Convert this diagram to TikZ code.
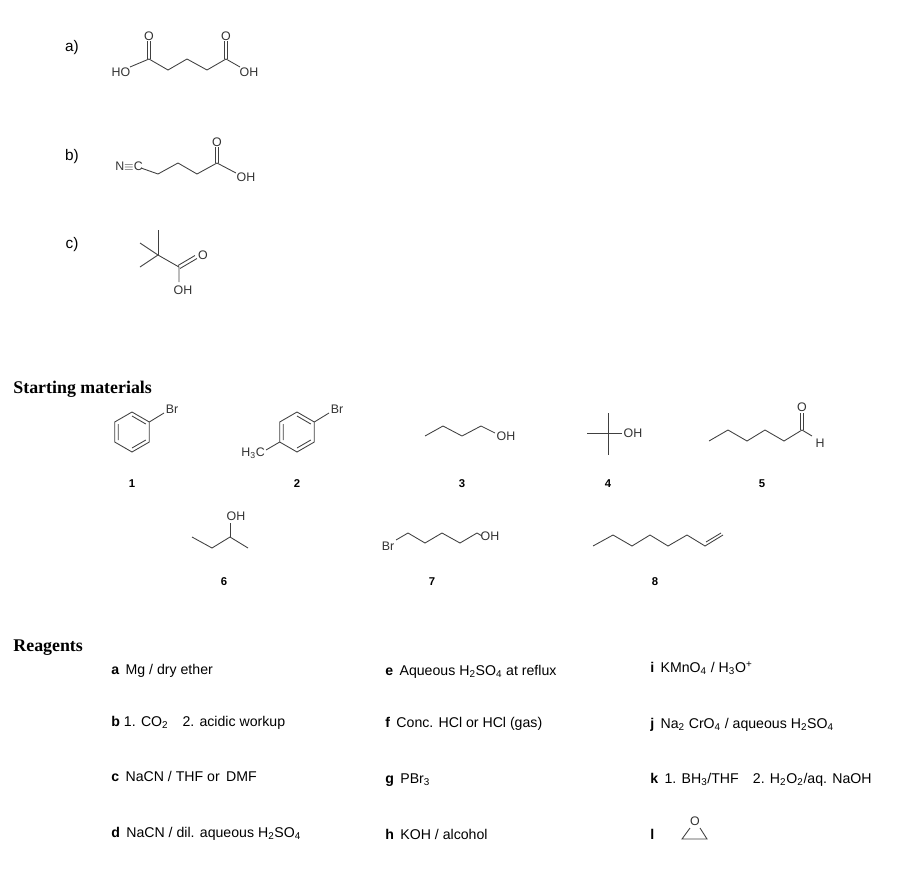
\documentclass[tikz,border=0pt]{standalone}
\usepackage{fontspec}
\setmainfont{Liberation Sans}
\newfontfamily\headfont{Liberation Serif}
\newcommand\sbx[1]{\textsubscript{#1}}
\newcommand\spx[1]{\textsuperscript{#1}}
\begin{document}
\begin{tikzpicture}[x=0.75pt,y=-0.75pt,line width=0.65pt,
  bond/.style={draw=black!75},
  atom/.style={inner sep=0pt,font=\fontsize{9.3}{10}\selectfont,text=black!80},
  lbl/.style={inner sep=0pt,font=\fontsize{11.5}{12}\selectfont},
  num/.style={inner sep=0pt,font=\bfseries\fontsize{8.5}{9}\selectfont},
  head/.style={inner sep=0pt,anchor=west,font=\headfont\bfseries\fontsize{13.4}{14}\selectfont},
  rg/.style={inner sep=0pt,anchor=west,font=\fontsize{10.6}{11}\selectfont}]
\useasboundingbox (0,0) rectangle (899,882);
% a)
\node[lbl] (la) at (72,48) {a)};
\node[atom] (ha) at (121,72) {HO};
\node[atom] (oa1) at (149,36) {O};
\node[atom] (oa2) at (249,72) {OH};
\draw[bond] (130,67) -- (149,59) -- (168,70) -- (187,59) -- (207,70) -- (226,59) -- (240,67);
\draw[bond] (147.5,59) -- (147.5,41); \draw[bond] (150.5,59) -- (150.5,41);
\draw[bond] (224.5,59) -- (224.5,41); \draw[bond] (227.5,59) -- (227.5,41);
\node[atom] (oa3) at (226,36) {O};
% b)
\node[lbl] (lb) at (72,157) {b)};
\node[atom] (nc) at (129,166) {N$\equiv$C};
\node[atom] (ob1) at (217,142) {O};
\node[atom] (ob2) at (246,177) {OH};
\draw[bond] (141,168) -- (158,174) -- (178,163) -- (197,174) -- (217,163) -- (236,173);
\draw[bond] (215.5,163) -- (215.5,147); \draw[bond] (218.5,163) -- (218.5,147);
% c)
\node[lbl] (lc) at (72,245) {c)};
\draw[bond] (158,230) -- (158,255); \draw[bond] (140,243) -- (158,255) -- (140,267);
\draw[bond] (158,255) -- (179,267) -- (179,282);
\draw[bond] (178,265.5) -- (195,255.5); \draw[bond] (180,268.5) -- (197,258.5);
\node[atom] (oc1) at (203,255) {O};
\node[atom] (oc2) at (183,290) {OH};
% Starting materials
\node[head] (hs) at (13,389) {Starting materials};
% 1
\draw[bond] (132,412) -- (149.3,422) -- (149.3,442) -- (132,452) -- (114.7,442) -- (114.7,422) -- cycle;
\draw[bond] (132,416) -- (145.8,424) (145.8,440) -- (132,448) (118.2,440) -- (118.2,424);
\draw[bond] (149.3,422) -- (164,413);
\node[atom] (br1) at (172,409) {Br};
\node[num] (n1) at (132,484) {1};
% 2
\draw[bond] (297,412) -- (314.3,422) -- (314.3,442) -- (297,452) -- (279.7,442) -- (279.7,422) -- cycle;
\draw[bond] (297,416) -- (310.8,424) (310.8,440) -- (297,448) (283.2,440) -- (283.2,424);
\draw[bond] (314.3,422) -- (329,413);
\node[atom] (br2) at (337,409) {Br};
\draw[bond] (279.7,442) -- (266,450);
\node[atom] (h3c) at (253,453) {H\sbx{3}C};
\node[num] (n2) at (297,484) {2};
% 3
\draw[bond] (425,436) -- (443,426) -- (462,436) -- (481,426) -- (495,433);
\node[atom] (oh3) at (506,436) {OH};
\node[num] (n3) at (462,484) {3};
% 4
\draw[bond] (587,433) -- (622,433); \draw[bond] (608,413) -- (608,455);
\node[atom] (oh4) at (633,433) {OH};
\node[num] (n4) at (608,484) {4};
% 5
\draw[bond] (709,441) -- (728,430) -- (747,441) -- (765,430) -- (784,441) -- (802,430) -- (812,436);
\draw[bond] (800.5,430) -- (800.5,413); \draw[bond] (803.5,430) -- (803.5,413);
\node[atom] (o5) at (802,407) {O};
\node[atom] (h5) at (820,443) {H};
\node[num] (n5) at (762,484) {5};
% 6
\draw[bond] (192,537) -- (212,548) -- (230,537) -- (248,548); \draw[bond] (230,537) -- (230,523);
\node[atom] (oh6) at (236,516) {OH};
\node[num] (n6) at (224,582) {6};
% 7
\node[atom] (br7) at (388,546) {Br};
\draw[bond] (396,540) -- (408,533) -- (425,543) -- (442,533) -- (460,543) -- (477,533) -- (482,536);
\node[atom] (oh7) at (490,536) {OH};
\node[num] (n7) at (432,582) {7};
% 8
\draw[bond] (593,546) -- (613,535) -- (632,546) -- (650,535) -- (668,546) -- (687,535) -- (705,546) -- (723,535);
\draw[bond] (706,542) -- (721,533);
\node[num] (n8) at (655,582) {8};
% Reagents
\node[head] (hr) at (13,648) {Reagents};
\node[rg] (ra) at (111,671) {\textbf{a}\, Mg / dry ether};
\node[rg] (rb) at (111,723) {\textbf{b} 1. CO\sbx{2}\quad 2. acidic workup};
\node[rg] (rc) at (111,776) {\textbf{c}\, NaCN / THF or\, DMF};
\node[rg] (rd) at (111,834) {\textbf{d}\, NaCN / dil. aqueous H\sbx{2}SO\sbx{4}};
\node[rg] (re) at (385,672) {\textbf{e}\, Aqueous H\sbx{2}SO\sbx{4} at reflux};
\node[rg] (rf) at (385,724) {\textbf{f}\, Conc. HCl or HCl (gas)};
\node[rg] (rgg) at (385,780) {\textbf{g}\, PBr\sbx{3}};
\node[rg] (rh) at (385,834) {\textbf{h}\, KOH / alcohol};
\node[rg] (ri) at (650,668) {\textbf{i}\, KMnO\sbx{4} / H\sbx{3}O\spx{+}};
\node[rg] (rj) at (650,725) {\textbf{j}\, Na\sbx{2} CrO\sbx{4} / aqueous H\sbx{2}SO\sbx{4}};
\node[rg] (rk) at (650,780) {\textbf{k}\, 1. BH\sbx{3}/THF\quad 2. H\sbx{2}O\sbx{2}/aq. NaOH};
\node[rg] (rl) at (650,834) {\textbf{l}};
\node[atom] (oep) at (695,821) {O};
\draw[bond] (690,828) -- (682,839) -- (707,839) -- (700,828);
\end{tikzpicture}
\end{document}
